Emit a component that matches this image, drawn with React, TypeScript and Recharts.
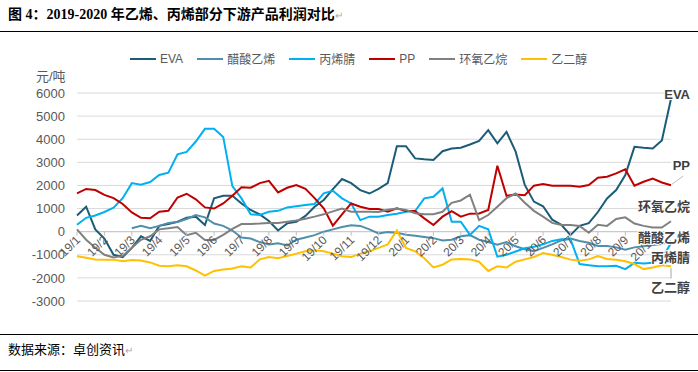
import { CartesianGrid, Line, LineChart, ReferenceLine, XAxis, YAxis } from "recharts";

const months = [
  "19/1", "19/2", "19/3", "19/4", "19/5", "19/6", "19/7", "19/8", "19/9", "19/10", "19/11", "19/12",
  "20/1", "20/2", "20/3", "20/4", "20/5", "20/6", "20/7", "20/8", "20/9", "20/10",
];
const dekads = ["上旬", "中旬", "下旬"];
const categories = months.flatMap((m) => dekads.map((p) => `${m} ${p}`));

const yTicks = [-3000, -2000, -1000, 0, 1000, 2000, 3000, 4000, 5000, 6000];

const eva = [
  700, 1080, 100, -300, -1000, -1100, -700, -200, -400, 250, 330,
  430, 600, 650, 290, 1440, 1550, 1550, 1220, 940, 750, 460,
  50, 360, 430, 680, 1080, 1370, 1840, 2280, 2100, 1800, 1650,
  1850, 2100, 3700, 3700, 3170, 3130, 3100, 3480, 3600, 3630, 3770,
  3930, 4390, 3820, 4320, 3460, 2020, 1300, 1100, 520, 300, -150,
  250, 370, 850, 1440, 1800, 2450, 3670, 3630, 3600, 3950, 5750,
];
const vinylAcetate = [
  null, null, null, null, null, null, 150, 250, 150, 250, 380,
  420, 550, 720, 620, 350, 250, 50, -250, -300, -450, -550,
  -500, -600, -350, -250, -150, 0, 100, 200, 280, 250, 100,
  -80, -20, -50, -130, -180, -230, -280, -380, -350, -200, -150,
  -350, -450, -560, -450, -630, -760, -850, -700, -550, -380, -300,
  -400, -480, -620, -620, -680, -780, -680, -630, -580, -530, -420,
];
const acrylonitrile = [
  300, 600, 700, 850, 1040, 1450, 2100, 2030, 2150, 2450, 2550,
  3350, 3450, 3900, 4450, 4450, 4100, 1970, 1440, 750, 720, 860,
  900, 1050, 1100, 1150, 1200, 1660, 1770, 1440, 1220, 500, 650,
  650, 720, 780, 860, 890, 1440, 1510, 1870, 430, 430, -140,
  250, 100, -1080, -1000, -860, -720, -650, -550, -400, -330, -330,
  -1400, -1450, -1500, -1500, -1480, -1620, -1350, -1380, -1350, -1150, -500,
];
const pp = [
  1660, 1850, 1800, 1590, 1450, 1200, 830, 600, 580, 860, 900,
  1480, 1640, 1400, 1050, 1000, 1220, 1550, 1920, 1900, 2100, 2200,
  1700, 1900, 2020, 1850, 1450, 1010, 260, 750, 1220, 1080, 980,
  980, 860, 1010, 890, 890, 575, 290, 650, 890, 650, 780,
  790, 940, 2850, 1550, 1610, 1580, 1990, 2060, 1990, 1990, 1990,
  1940, 2020, 2330, 2380, 2520, 2700, 1990, 2160, 2300, 2130, 2010,
];
const ethyleneOxide = [
  100, -350, -700, -1000, -1120, -1050, -700, -350, -200, 100, 150,
  200, -150, -50, -360, -360, -140, 120, 330, 330, 350, 380,
  380, 430, 480, 560, 650, 750, 880, 1000, 860, 860, 860,
  850, 950, 1000, 940, 800, 750, 750, 860, 1250, 1350, 1600,
  500, 720, 1080, 1450, 1650, 1250, 900, 650, 380, 290, 290,
  250, -50, 300, 250, 550, 620, 350, 250, 180, 180, 450,
];
const glycol = [
  -1060, -1130, -1200, -1210, -1210, -1280, -1230, -1250, -1330, -1470, -1500,
  -1450, -1500, -1680, -1900, -1700, -1640, -1590, -1500, -1550, -1200, -1100,
  -1150, -1050, -950, -850, -800, -850, -950, -1060, -1100, -950, -850,
  -700, -550, 50, -700, -850, -1150, -1550, -1430, -1200, -1180, -1200,
  -1300, -1700, -1500, -1550, -1300, -1200, -1100, -920, -1000, -1100, -1210,
  -1260, -1200, -1060, -1180, -1220, -1280, -1400, -1620, -1550, -1450, -1500,
];

const SERIES = [
  { key: "eva", name: "EVA", color: "#1b5c77", values: eva, label: "EVA", dy: 0, leader: "" },
  { key: "va", name: "醋酸乙烯", color: "#4f8fab", values: vinylAcetate, label: "醋酸乙烯", dy: 1, leader: "" },
  { key: "an", name: "丙烯腈", color: "#00b0f0", values: acrylonitrile, label: "丙烯腈", dy: 19, leader: "" },
  { key: "pp", name: "PP", color: "#c00000", values: pp, label: "PP", dy: -15, leader: "up" },
  { key: "eo", name: "环氧乙烷", color: "#808080", values: ethyleneOxide, label: "环氧乙烷", dy: -10, leader: "" },
  { key: "meg", name: "乙二醇", color: "#ffc000", values: glycol, label: "乙二醇", dy: 26, leader: "down" },
];

const data = categories.map((d, i) => {
  const row: Record<string, string | number | null> = { d };
  SERIES.forEach((s) => {
    row[s.key] = s.values[i];
  });
  return row;
});

const LAST = categories.length - 1;
const W = 698;
const CH = 290;
const CHART_TOP = 40;
const MARGIN = { top: 53, right: 27, bottom: 19, left: 0 };
const X_AXIS_H = 10;
const Y_MIN = -3000;
const Y_MAX = 6000;
const PLOT_H = CH - MARGIN.top - MARGIN.bottom - X_AXIS_H;
const ZERO_Y = MARGIN.top + (PLOT_H * Y_MAX) / (Y_MAX - Y_MIN);

const SANS = '"Liberation Sans", Arial, "Noto Sans CJK SC", sans-serif';
const CJK = '"Noto Sans CJK SC", sans-serif';

function MonthTick(props: any) {
  const { x, payload } = props;
  const text = String(payload.value).split(" ")[0];
  const tx = x + 4;
  const ty = ZERO_Y + 9;
  return (
    <g>
      <line x1={x} y1={ZERO_Y} x2={x} y2={ZERO_Y + 4} stroke="#bfbfbf" />
      <text
        x={tx}
        y={ty}
        textAnchor="end"
        fontSize={12}
        fill="#595959"
        fontFamily={SANS}
        transform={`rotate(-45, ${tx}, ${ty})`}
      >
        {text}
      </text>
    </g>
  );
}

function endLabel(text: string, dy: number, leader: string) {
  return (p: any) => {
    if (p.index !== LAST || p.x == null) return <g />;
    const x = Number(p.x);
    const y = Number(p.y);
    return (
      <g>
        {leader === "up" && <line x1={x + 1} y1={y - 1} x2={x + 12} y2={y - 9} stroke="#bfbfbf" />}
        {leader === "down" && <line x1={x} y1={y + 2} x2={x} y2={y + 12} stroke="#a6a6a6" />}
        <text
          x={x + 19}
          y={y + dy}
          textAnchor="end"
          fontSize={13}
          fontWeight="bold"
          fill="#404040"
          stroke="#ffffff"
          strokeWidth={2}
          paintOrder="stroke"
          fontFamily={SANS}
        >
          {text}
        </text>
      </g>
    );
  };
}

export default function App() {
  return (
    <div
      style={{
        position: "absolute",
        left: 0,
        top: 0,
        width: W,
        height: 372,
        background: "#fff",
        overflow: "hidden",
      }}
    >
      <div
        style={{
          position: "absolute",
          left: 8,
          top: 3,
          fontSize: 14,
          fontWeight: "bold",
          color: "#000",
          fontFamily: '"Liberation Serif", "Noto Sans CJK SC", serif',
          whiteSpace: "nowrap",
        }}
      >
        图 4：2019-2020 年乙烯、丙烯部分下游产品利润对比
        <span style={{ color: "#aaa", fontWeight: "normal", fontSize: 10 }}>↵</span>
      </div>
      <div style={{ position: "absolute", left: 0, top: 31, width: W, height: 1, background: "#000" }} />

      <div
        style={{
          position: "absolute",
          left: 130,
          top: 50,
          display: "flex",
          gap: 14,
          fontSize: 12,
          color: "#595959",
          fontFamily: SANS,
          whiteSpace: "nowrap",
        }}
      >
        {SERIES.map((s) => (
          <div key={s.key} style={{ display: "flex", alignItems: "center" }}>
            <span style={{ display: "inline-block", width: 26, height: 2, background: s.color, marginRight: 4 }} />
            <span>{s.name}</span>
          </div>
        ))}
      </div>

      <div
        style={{
          position: "absolute",
          left: 36,
          top: 66,
          fontSize: 13,
          color: "#595959",
          fontFamily: SANS,
        }}
      >
        元/吨
      </div>

      <div style={{ position: "absolute", left: 0, top: CHART_TOP }}>
        <LineChart width={W} height={CH} data={data} margin={MARGIN}>
          <CartesianGrid vertical={false} stroke="#d9d9d9" />
          <XAxis
            dataKey="d"
            height={X_AXIS_H}
            interval={2}
            axisLine={false}
            tickLine={false}
            tick={<MonthTick />}
          />
          <YAxis
            width={77}
            domain={[Y_MIN, Y_MAX]}
            ticks={yTicks}
            axisLine={false}
            tickLine={false}
            tickMargin={6}
            tick={{ fill: "#595959", fontSize: 13, fontFamily: SANS }}
          />
          <ReferenceLine y={0} stroke="#c6c6c6" />
          {SERIES.map((s) => (
            <Line
              key={s.key}
              type="linear"
              dataKey={s.key}
              name={s.name}
              stroke={s.color}
              strokeWidth={2}
              dot={false}
              connectNulls={false}
              isAnimationActive={false}
              label={endLabel(s.label, s.dy, s.leader)}
            />
          ))}
        </LineChart>
      </div>

      <div style={{ position: "absolute", left: 0, top: 334, width: W, height: 1, background: "#000" }} />
      <div
        style={{
          position: "absolute",
          left: 8,
          top: 339,
          fontSize: 13,
          color: "#000",
          fontFamily: CJK,
          whiteSpace: "nowrap",
        }}
      >
        数据来源：卓创资讯
        <span style={{ color: "#aaa", fontSize: 10 }}>↵</span>
      </div>
      <div style={{ position: "absolute", left: 0, top: 370, width: W, height: 1, background: "#000" }} />
    </div>
  );
}
